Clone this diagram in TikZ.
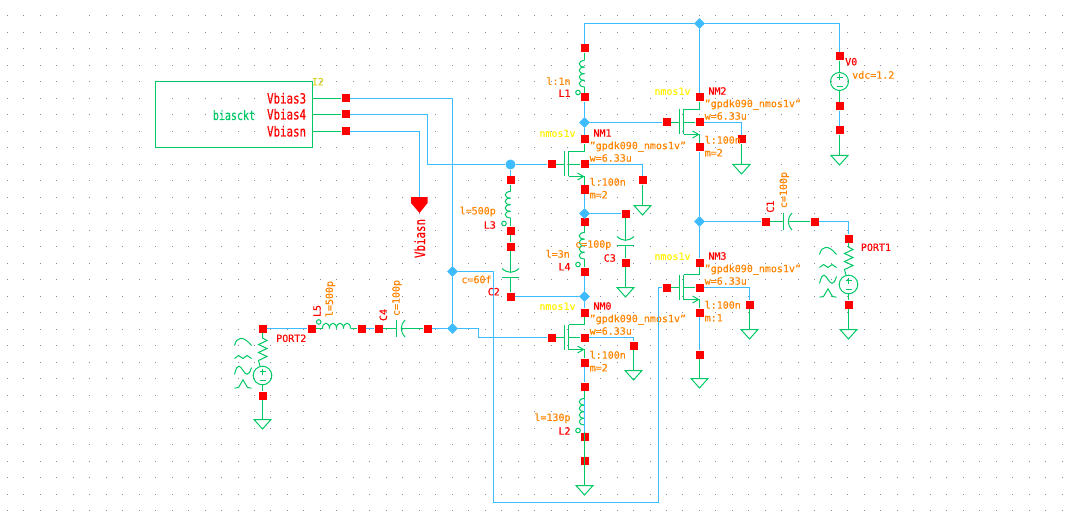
\documentclass[tikz,border=0pt]{standalone}
\usepackage{fontspec}
\setmainfont[FakeBold=0.35]{DejaVu Sans Mono}
\usetikzlibrary{shapes.geometric}
\definecolor{wireblue}{HTML}{3CBCFF}
\definecolor{partgreen}{HTML}{00C864}
\definecolor{parmorange}{HTML}{FF8400}
\definecolor{griddot}{HTML}{8A8AA8}
\definecolor{instyellow}{HTML}{D8D020}
\tikzset{
  blueline/.style={draw=wireblue,line width=1pt},
  greenline/.style={draw=partgreen,line width=1pt},
  pinbox/.style={rectangle,fill=red,inner sep=0pt,minimum size=8pt},
  junction/.style={diamond,fill=wireblue,inner sep=0pt,minimum size=11pt},
  jround/.style={circle,fill=wireblue,inner sep=0pt,minimum size=10pt},
  txt/.style={inner sep=0pt,text height=7.3pt,text depth=0pt,font=\fontsize{10}{12}\selectfont},
  tall/.style={txt,text height=10pt},
  parm/.style={txt,text=parmorange},
  refname/.style={txt,text=red},
  celltype/.style={txt,text=yellow},
}
\begin{document}
\begin{tikzpicture}[x=1pt,y=-1pt]
  \useasboundingbox (0,0) rectangle (1074,524);
  % grid
  \foreach \i in {0,...,64}
    \foreach \j in {0,...,30} {
      \ifnum\numexpr\i*100+\j\relax=400 \else
        \pgfmathsetmacro{\gx}{floor(7.3+16.48*\i)}
        \pgfmathsetmacro{\gy}{floor(15.6+16.5*\j)}
        \fill[griddot] (\gx,\gy) rectangle ++(1,1);
      \fi
    }
  % pins
  \foreach \n/\x/\y in {I2vA/345.5/98.5,I2vB/345.5/114.5,I2vC/345.5/131.5,
      L1a/584.5/48.5,L1b/584.5/97.5,L3a/510.5/180.5,L3b/510.5/230.5,C2a/510.5/246.5,C2b/510.5/296.5,
      L4a/584.5/221.5,L4b/584.5/271.5,C3a/625.5/213.5,C3b/625.5/262.5,
      L2a/584.5/386.5,L2b/584.5/436.5,L2c/584.5/460.5,NM3f/699.5/354.5,
      V0a/839.5/56.5,V0b/839.5/106.5,V0c/839.5/130.5,
      C1a/765.5/221.5,C1b/814.5/221.5,P1a/848.5/238.5,P1b/848.5/304.5,
      P2a/262.5/328.5,P2b/262.5/395.5,L5a/311.5/328.5,L5b/361.5/328.5,
      C4a/378.5/328.5,C4b/427.5/328.5}
    \node[pinbox] (\n) at (\x,\y) {};
  % junctions
  \foreach \n/\x/\y in {Jtop/699.5/23.5,Jgate/584.5/122.5,Jmid/584.5/213.5,
      Jlow/584.5/296.5,Jout/699.5/221.5,Jleft/452.5/271.5,Jin/452.5/328.5}
    \node[junction] (\n) at (\x,\y) {};
  \node[jround] (Jbias) at (510.5,164.5) {};
  % grounds
  \foreach \n/\x/\y in {G1/642.5/205.5,G2/741.5/164.5,G0/633.5/370.5,G3/749.5/329.5,G4/699.5/378.5,
      G5/839.5/155.5,G6/848.5/329.5,G7/262.5/419.5,G8/625.5/287.5,G9/584.5/485.5} {
    \coordinate (\n) at (\x,\y);
    \draw[greenline] (\n) -- ++(-8.5,0) -- ++(8.5,9.5) -- ++(8.5,-9.5) -- cycle;
  }
  % transistors
  \foreach \m/\x/\y/\ex/\ey/\mval in {NM1/584.5/164.5/642.5/180.5/m=2,NM2/699.5/122.5/741.5/139.5/m=2,
      NM0/584.5/337.5/633.5/345.5/m=2,NM3/699.5/287.5/749.5/304.5/m:1} {
    \node[pinbox] (\m d) at (\x,\y-25) {};
    \node[pinbox] (\m g) at (\x-33,\y) {};
    \node[pinbox] (\m b) at (\x,\y) {};
    \node[pinbox] (\m s) at (\x,\y+25) {};
    \node[pinbox] (\m e) at (\ex,\ey) {};
    \coordinate (\m bar) at (\x-20,\y);
    \coordinate (\m ch) at (\x-16,\y);
    \coordinate (\m top) at (\x,\y-13);
    \coordinate (\m bot) at (\x,\y+12);
    \draw[greenline] (\x-20,\y-13) -- (\x-20,\y+12);
    \draw[greenline] (\x-16,\y-13) -- (\x-16,\y+12);
    \draw[greenline] (\m g) -- (\m bar);
    \draw[greenline] (\m d) -- (\m top) -- (\x-16,\y-13);
    \draw[greenline] (\m ch) -- (\m b);
    \draw[greenline] (\m s) -- (\m bot) -- (\x-16,\y+12);
    \draw[greenline] (\x-7,\y+8.5) -- (\x-1,\y+12) -- (\x-7,\y+15.5);
    \draw[blueline] (\m b) -| (\m e);
    \node[celltype,anchor=west] (\m type) at (\x-45.3,\y-31.3) {nmos1v};
    \node[refname,anchor=west] (\m name) at (\x+8.7,\y-31.5) {\m};
    \node[parm,anchor=west] (\m model) at (\x+5,\y-19) {"gpdk090\_nmos1v"};
    \node[parm,anchor=west] (\m w) at (\x+5,\y-6.5) {w=6.33u};
    \node[parm,anchor=west] (\m l) at (\x+5,\y+17.5) {l:100n};
    \node[parm,anchor=west] (\m m) at (\x+5,\y+30.2) {\mval};
  }
  % vertical inductors
  \foreach \n/\x/\y in {L1/584.5/60.5,L3/510.5/191.5,L4/584.5/232.5,L2/584.5/398.5} {
    \coordinate (\n c) at (\x,\y);
    \coordinate (\n f) at (\x,\y+26.4);
    \draw[greenline] (\n a) -- (\n c);
    \draw[greenline] (\n f) -- (\n b);
    \foreach \k in {0,1,2,3}
      \draw[greenline] (\x,\y+6.6*\k) .. controls (\x-7,\y+6.6*\k) and (\x-7,\y+6.6*\k+6.6) .. (\x,\y+6.6*\k+6.6);
    \draw[greenline] (\x-6.5,\y+32) circle (2.3);
  }
  % horizontal inductor
  \coordinate (L5c) at (322.5,328.5);
  \coordinate (L5f) at (350.5,328.5);
  \draw[greenline] (L5a) -- (L5c);
  \draw[greenline] (L5f) -- (L5b);
  \foreach \k in {0,1,2,3}
    \draw[greenline] (322.5+7*\k,328.5) .. controls (322.5+7*\k,321.5) and (329.5+7*\k,321.5) .. (329.5+7*\k,328.5);
  \draw[greenline] (318.7,322) circle (2.3);
  % vertical capacitors
  \foreach \n/\x/\y in {C2/510.5/277.5,C3/625.5/245.5} {
    \coordinate (\n p) at (\x,\y);
    \coordinate (\n q) at (\x,\y-5);
    \draw[greenline] (\x-8.5,\y) -- (\x+8.5,\y);
    \draw[greenline] (\x-8.5,\y-9) .. controls (\x-3,\y-4) and (\x+3,\y-4) .. (\x+8.5,\y-9);
    \draw[greenline] (\n a) -- (\n q);
    \draw[greenline] (\n p) -- (\n b);
  }
  % horizontal capacitors
  \foreach \n/\x/\y in {C1/783.5/221.5,C4/396.5/328.5} {
    \coordinate (\n p) at (\x,\y);
    \coordinate (\n q) at (\x+4.5,\y);
    \draw[greenline] (\x,\y-8.5) -- (\x,\y+8.5);
    \draw[greenline] (\x+8.5,\y-8.5) .. controls (\x+3.5,\y-3) and (\x+3.5,\y+3) .. (\x+8.5,\y+8.5);
    \draw[greenline] (\n a) -- (\n p);
    \draw[greenline] (\n q) -- (\n b);
  }
  % supply
  \node[circle,draw=partgreen,line width=1pt,minimum size=18pt,inner sep=0pt] (V0src) at (839.5,81.5) {};
  \draw[greenline] (V0a) -- (V0src);
  \draw[greenline] (V0src) -- (V0b);
  \draw[greenline] (836.5,77.5) -- (842.5,77.5) (839.5,74.5) -- (839.5,80.5) (836.5,86.5) -- (842.5,86.5);
  % ports
  \foreach \n/\x/\y/\w in {P1/848.5/284.5/819.5,P2/262.5/375.5/234.5} {
    \node[circle,draw=partgreen,line width=1pt,minimum size=18.6pt,inner sep=0pt] (\n src) at (\x,\y) {};
    \coordinate (\n z) at (\x,\y-37.5);
    \draw[greenline] (\n a) -- (\n z) -- (\x+4.5,\y-35) -- (\x-4,\y-31) -- (\x+4.5,\y-27)
      -- (\x-4,\y-23) -- (\x+4.5,\y-19) -- (\x-4,\y-15) -- (\n src);
    \draw[greenline] (\n src) -- (\n b);
    \draw[greenline] (\x-3,\y-4) -- (\x+3,\y-4) (\x,\y-7) -- (\x,\y-1) (\x-3,\y+5) -- (\x+3,\y+5);
    \draw[greenline] (\w,\y-30) .. controls (\w+2,\y-39) and (\w+9,\y-40) .. (\w+17,\y-30);
    \draw[greenline] (\w,\y-17) -- (\w+4,\y-20) -- (\w+8.5,\y-17) -- (\w+12.5,\y-20) -- (\w+17,\y-17);
    \draw[greenline] (\w,\y-1) .. controls (\w+3,\y-14) and (\w+6,\y-9) .. (\w+8.5,\y-5)
      .. controls (\w+11,\y-1) and (\w+14,\y+2) .. (\w+17,\y-8);
    \draw[greenline] (\w,\y+12.7) -- (\w+4,\y+12) -- (\w+8.5,\y+4.3) -- (\w+13,\y+12) -- (\w+17,\y+12.7);
  }
  % ground stubs
  \foreach \a/\b in {NM1e/G1,NM2e/G2,NM0e/G0,NM3e/G3,NM3f/G4,V0c/G5,P1b/G6,P2b/G7,C3b/G8,L2c/G9}
    \draw[greenline] (\a) -- (\b);
  % block
  \node[draw=partgreen,line width=1pt,minimum width=157pt,minimum height=66pt,inner sep=0pt] (I2box) at (234,114.5) {};
  \foreach \n/\t in {I2vA/Vbias3,I2vB/Vbias4,I2vC/Vbiasn} {
    \draw[greenline] (\n) -- (I2box.east |- \n);
    \node[tall,text=red,anchor=east,font=\fontsize{10.8}{12}\selectfont] (\n text) at (I2box.east |- \n) [xshift=-6.7pt] {\scalebox{1}[1.3]{\t}};
  }
  \node[tall,text=partgreen,anchor=west] (I2cell) at (212.7,115) {\scalebox{1}[1.3]{biasckt}};
  \node[txt,text=instyellow,anchor=west] (I2name) at (311.7,81.7) {I2};
  % bias arrow
  \coordinate (Vbtip) at (419.5,197);
  \fill[red] (411,197) -- (427.5,197) -- (427.5,203) -- (419.5,213) -- (411,203) -- cycle;
  \node[tall,text=red,rotate=90,font=\fontsize{10.8}{12}\selectfont] (Vbiasn) at (420,238.5) {\scalebox{1}[1.3]{Vbiasn}};
  % wires
  \coordinate (Wfour) at (427.5,164.5);
  \coordinate (Wlow) at (493.5,502.5);
  \coordinate (Wret) at (658.5,502.5);
  \coordinate (Win) at (478.5,328.5);
  \draw[blueline] (L1a) |- (Jtop);
  \draw[blueline] (Jtop) -| (V0a);
  \draw[blueline] (Jtop) -- (NM2d);
  \draw[blueline] (NM2s) -- (Jout);
  \draw[blueline] (Jout) -- (NM3d);
  \draw[blueline] (L1b) -- (Jgate);
  \draw[blueline] (Jgate) -- (NM1d);
  \draw[blueline] (Jgate) -- (NM2g);
  \draw[blueline] (NM1s) -- (Jmid);
  \draw[blueline] (Jmid) -- (L4a);
  \draw[blueline] (Jmid) -- (C3a);
  \draw[blueline] (L4b) -- (Jlow);
  \draw[blueline] (Jlow) -- (NM0d);
  \draw[blueline] (Jlow) -- (C2b);
  \draw[blueline] (NM0s) -- (L2a);
  \draw[blueline] (L2b) -- (L2c);
  \draw[blueline] (NM3s) -- (NM3f);
  \draw[blueline] (V0b) -- (V0c);
  \draw[blueline] (Jout) -- (C1a);
  \draw[blueline] (C1b) -| (P1a);
  \draw[blueline] (I2vA) -| (Jleft);
  \draw[blueline] (Jleft) -- (Jin);
  \draw[blueline] (Jleft) -| (Wlow) -- (Wret) |- (NM3g);
  \draw[blueline] (I2vB) -| (Wfour) -- (Jbias);
  \draw[blueline] (Jbias) -- (NM1g);
  \draw[blueline] (Jbias) -- (L3a);
  \draw[blueline] (I2vC) -| (Vbtip);
  \draw[blueline] (P2a) -- (L5a);
  \draw[blueline] (L5b) -- (C4a);
  \draw[blueline] (C4b) -- (Jin);
  \draw[blueline] (Jin) -- (Win) |- (NM0g);
  \draw[greenline] (L3b) -- (C2a);
  % part labels
  \node[parm,anchor=east] (L1val) at (570.7,81.3) {l:1n};
  \node[refname,anchor=east] (L1name) at (570.7,93.3) {L1};
  \node[parm,anchor=east] (L3val) at (496,210.7) {l=500p};
  \node[refname,anchor=east] (L3name) at (496,225) {L3};
  \node[parm,anchor=east] (L4val) at (570,254) {l=3n};
  \node[refname,anchor=east] (L4name) at (570.7,266.7) {L4};
  \node[parm,anchor=east] (L2val) at (570.7,417.3) {l=130p};
  \node[refname,anchor=east] (L2name) at (570.7,431) {L2};
  \node[parm,anchor=west] (C3val) at (575,244) {c=100p};
  \node[refname,anchor=east] (C3name) at (616,258) {C3};
  \node[parm,anchor=east] (C2val) at (491.7,279.5) {c=60f};
  \node[refname,anchor=east] (C2name) at (500,291.7) {C2};
  \node[refname,anchor=west] (V0name) at (845,61.7) {V0};
  \node[parm,anchor=west] (V0val) at (852,75) {vdc=1.2};
  \node[refname,rotate=90] (C1name) at (770.3,206.7) {C1};
  \node[parm,rotate=90] (C1val) at (783.3,190) {c=100p};
  \node[refname,anchor=west] (P1name) at (860.7,247.3) {PORT1};
  \node[refname,anchor=west] (P2name) at (276,338.3) {PORT2};
  \node[refname,rotate=90] (L5name) at (317,311) {L5};
  \node[parm,rotate=90] (L5val) at (329.3,299) {l=500p};
  \node[refname,rotate=90] (C4name) at (383.3,315) {C4};
  \node[parm,rotate=90] (C4val) at (396,298) {c=100p};
\end{tikzpicture}
\end{document}
